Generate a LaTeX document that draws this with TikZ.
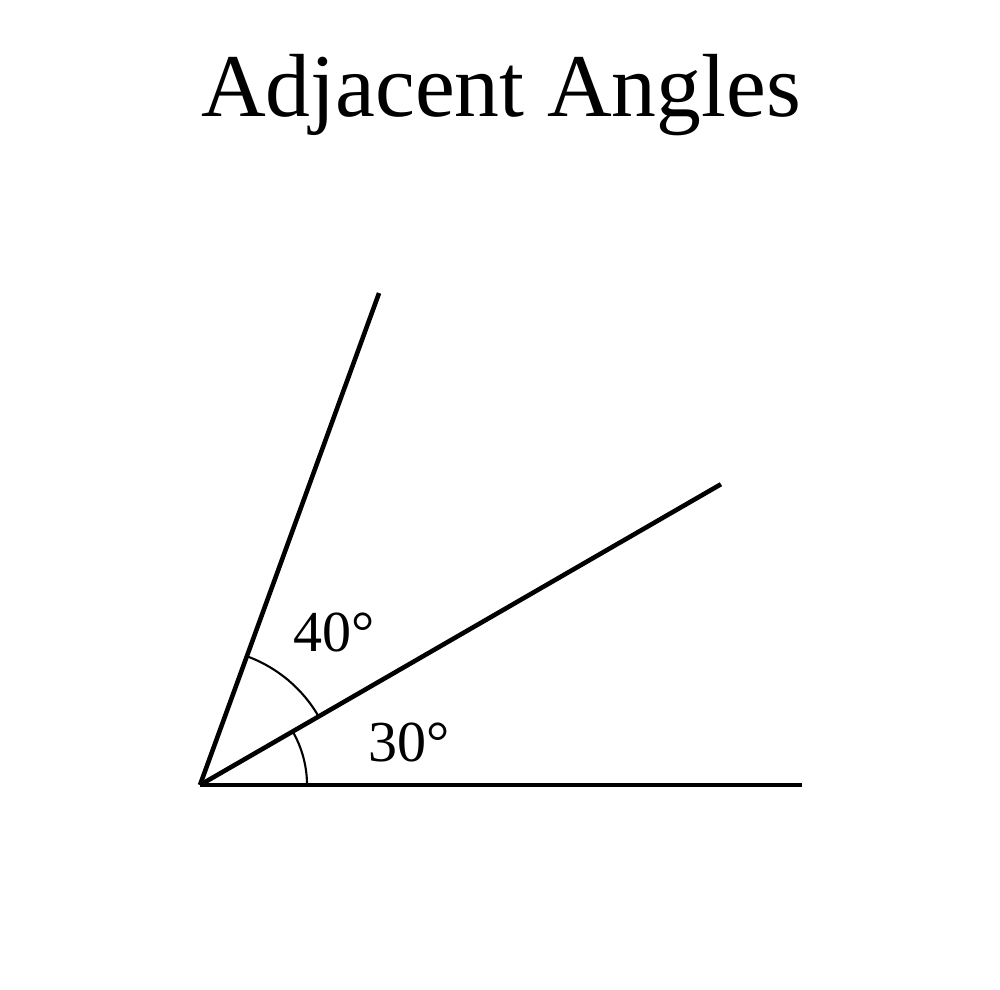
\documentclass[tikz,border=0pt]{standalone}
\usepackage{fontspec}
\setmainfont{Liberation Serif}
\usetikzlibrary{calc,positioning}
\tikzset{
ray/.style={draw, line width=2.6pt},
arcmark/.style={draw, line width=1.2pt},
anglelabel/.style={
  inner sep=0pt,
  anchor=base west,
  font=\fontsize{33}{36}\selectfont},
heading/.style={
  inner sep=0pt,
  anchor=base,
  font=\fontsize{51}{56}\selectfont}
}

\begin{document}
\begin{tikzpicture}
    \useasboundingbox (0,0) rectangle (20,19.8);
    \node [heading] (title) at (10.02,17.46) {Adjacent Angles};
    \coordinate (vertex) at (4.0,4.1);
    \coordinate (base) at ($(vertex)+(0:12.04)$);
    \coordinate (mid) at ($(vertex)+(30:12.03)$);
    \coordinate (top) at ($(vertex)+(70:10.47)$);
    \path [ray] (vertex) -- (base);
    \path [ray] (vertex) -- (mid);
    \path [ray] (vertex) -- (top);
    \path [arcmark] ($(vertex)+(0:2.14)$) arc (0:30:2.14);
    \path [arcmark] ($(vertex)+(30:2.74)$) arc (30:70:2.74);
    \node [anglelabel] (forty) at (5.86,6.76) {40°};
    \node [anglelabel] (thirty) at (7.36,4.56) {30°};
\end{tikzpicture}
\end{document}
